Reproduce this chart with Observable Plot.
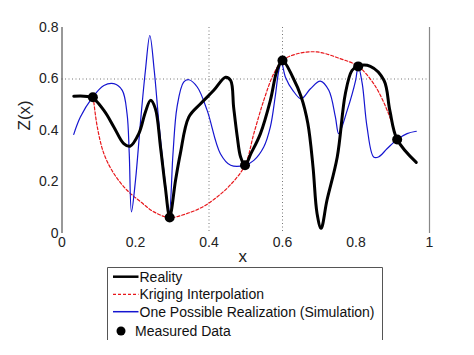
<!DOCTYPE html>
<html>
<head>
<meta charset="utf-8">
<script src="https://cdn.jsdelivr.net/npm/d3@7"></script>
<script src="https://cdn.jsdelivr.net/npm/@observablehq/plot@0.6"></script>
<style>
  html, body { margin: 0; padding: 0; background: #fff; }
  #chart { width: 474px; height: 355px; position: relative; font-family: "Liberation Sans", Arial, sans-serif; }
  #chart svg { display: block; }
</style>
</head>
<body>
<div id="chart"></div>
<script>
// ---- data ----
const realityX = [0.032,0.082,0.114,0.141,0.168,0.185,0.209,0.227,0.241,0.254,0.268,0.281,0.293,0.309,0.322,0.345,0.377,0.413,0.445,0.459,0.467,0.477,0.486,0.498,0.514,0.54,0.567,0.585,0.6,0.628,0.651,0.669,0.683,0.694,0.705,0.721,0.749,0.771,0.789,0.805,0.839,0.876,0.892,0.912,0.964];
const realityY = [0.533,0.527,0.478,0.414,0.349,0.339,0.388,0.472,0.517,0.485,0.336,0.181,0.065,0.207,0.31,0.452,0.504,0.556,0.607,0.594,0.491,0.375,0.297,0.265,0.31,0.388,0.517,0.633,0.672,0.607,0.53,0.427,0.259,0.078,0.02,0.129,0.297,0.543,0.633,0.65,0.649,0.595,0.478,0.365,0.276];

const krigingX = [0.085,0.096,0.114,0.141,0.177,0.214,0.25,0.293,0.341,0.385,0.422,0.459,0.498,0.522,0.549,0.576,0.6,0.64,0.694,0.757,0.805,0.848,0.885,0.912];
const krigingY = [0.53,0.414,0.31,0.233,0.168,0.123,0.084,0.062,0.078,0.105,0.142,0.19,0.265,0.388,0.517,0.62,0.672,0.698,0.705,0.679,0.65,0.582,0.478,0.365];

const simX = [0.032,0.05,0.082,0.114,0.141,0.164,0.177,0.183,0.189,0.2,0.214,0.227,0.239,0.251,0.263,0.277,0.292,0.302,0.313,0.331,0.345,0.368,0.395,0.431,0.459,0.498,0.522,0.549,0.567,0.58,0.59,0.597,0.608,0.628,0.651,0.676,0.703,0.726,0.744,0.753,0.776,0.799,0.806,0.817,0.83,0.848,0.861,0.885,0.912,0.939,0.964];
const simY = [0.385,0.452,0.527,0.575,0.582,0.556,0.465,0.31,0.084,0.207,0.44,0.633,0.769,0.633,0.44,0.246,0.084,0.31,0.491,0.588,0.597,0.569,0.478,0.31,0.265,0.265,0.284,0.336,0.414,0.53,0.633,0.665,0.607,0.556,0.523,0.562,0.592,0.556,0.452,0.388,0.478,0.595,0.65,0.582,0.414,0.297,0.297,0.33,0.365,0.388,0.397];

const measuredX = [0.084,0.293,0.498,0.6,0.806,0.912];
const measuredY = [0.529,0.062,0.265,0.672,0.649,0.365];

const xTicks = [0, 0.2, 0.4, 0.6, 0.8, 1];
const xTickLabels = ["0", "0.2", "0.4", "0.6", "0.8", "1"];
const yTicks = [0, 0.2, 0.4, 0.6, 0.8];
const yTickLabels = ["0", "0.2", "0.4", "0.6", "0.8"];
const gridX = [0.4, 0.6];
const gridY = [0.6];

const seriesNames = ["Reality", "Kriging Interpolation", "One Possible Realization (Simulation)", "Measured Data"];
const xLabel = "x";
const yLabel = "Z(x)";

// ---- build tables ----
const reality = realityX.map((x, i) => ({x, y: realityY[i]}));
const kriging = krigingX.map((x, i) => ({x, y: krigingY[i]}));
const sim = simX.map((x, i) => ({x, y: simY[i]}));
const measured = measuredX.map((x, i) => ({x, y: measuredY[i]}));

const plot = Plot.plot({
  width: 474,
  height: 266,
  marginLeft: 61.5,
  marginRight: 45,
  marginTop: 27,
  marginBottom: 33,
  style: {fontFamily: "'Liberation Sans', Arial, sans-serif", background: "#fff"},
  x: {domain: [0, 1]},
  y: {domain: [0, 0.8]},
  marks: [
    Plot.ruleX(gridX, {stroke: "#777", strokeWidth: 1, strokeDasharray: "1,2.5"}),
    Plot.ruleY(gridY, {stroke: "#777", strokeWidth: 1, strokeDasharray: "1,2.5"}),
    Plot.ruleX([0], {stroke: "#333", strokeWidth: 1}),
    Plot.ruleX([1], {stroke: "#888", strokeWidth: 1.2}),
    Plot.axisX({ticks: xTicks, tickFormat: (d) => xTickLabels[xTicks.indexOf(d)], tickSize: 0, tickPadding: 4, fontSize: 14, color: "#222", label: null}),
    Plot.axisY({ticks: yTicks, tickFormat: (d) => yTickLabels[yTicks.indexOf(d)], tickSize: 0, tickPadding: 3.5, fontSize: 14, color: "#222", label: null}),
    Plot.line(kriging, {x: "x", y: "y", stroke: "#e8171b", strokeWidth: 1.2, strokeDasharray: "3,2", curve: "catmull-rom"}),
    Plot.line(sim, {x: "x", y: "y", stroke: "#1515d0", strokeWidth: 1.2, curve: "catmull-rom"}),
    Plot.line(reality, {x: "x", y: "y", stroke: "#000", strokeWidth: 3, curve: "catmull-rom"}),
    Plot.dot(measured, {x: "x", y: "y", r: 5, fill: "#000"}),
    Plot.text([yLabel], {frameAnchor: "left", rotate: -90, dx: -37, fontSize: 17, fill: "#222"}),
    Plot.text([xLabel], {frameAnchor: "bottom", dx: -3, dy: 28, fontSize: 17, fill: "#222"})
  ]
});
document.getElementById("chart").appendChild(plot);

// ---- legend (below the plot SVG) ----
const leg = d3.select("#chart").append("svg")
  .attr("width", 474).attr("height", 89)
  .style("font-family", "'Liberation Sans', Arial, sans-serif");
const boxL = 107.5, boxR = 382.5, boxT = 1.5, boxB = 74;
leg.append("path")
  .attr("d", `M${boxL},${boxB} V${boxT} H${boxR} V${boxB}`)
  .attr("fill", "none").attr("stroke", "#555").attr("stroke-width", 1);
const rowY = [10.7, 28.3, 45.7, 65];
const styles = [
  {stroke: "#000", w: 2.5, dash: null},
  {stroke: "#e8171b", w: 1.2, dash: "3,2"},
  {stroke: "#1515d0", w: 1.5, dash: null}
];
seriesNames.forEach((name, i) => {
  const y = rowY[i];
  if (i < 3) {
    leg.append("line").attr("x1", 113).attr("x2", 138.5).attr("y1", y).attr("y2", y)
      .attr("stroke", styles[i].stroke).attr("stroke-width", styles[i].w)
      .attr("stroke-dasharray", styles[i].dash);
  } else {
    leg.append("circle").attr("cx", 121).attr("cy", y).attr("r", 4.5).attr("fill", "#000");
  }
  leg.append("text").attr("x", i < 3 ? 139.5 : 135).attr("y", y).attr("dy", "0.35em")
    .attr("font-size", 14).attr("fill", "#111").text(name);
});
</script>
</body>
</html>
